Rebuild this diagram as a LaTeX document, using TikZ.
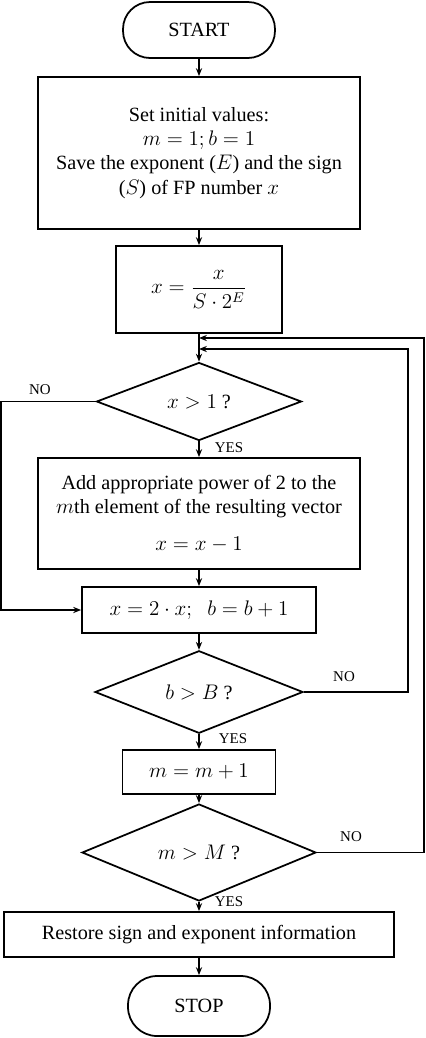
\documentclass[tikz,border=0pt]{standalone}
\usepackage{fontspec}
\setmainfont{Liberation Serif}
\usetikzlibrary{shapes.geometric,arrows.meta}
\begin{document}
\begin{tikzpicture}[
        x=0.02cm, y=-0.02cm,
        every node/.style={draw, line width=1pt, align=center, font=\fontsize{11.5}{13.8}\selectfont, inner sep=2pt},
        term/.style={rounded corners=0.54cm, minimum width=3.04cm, minimum height=1.12cm},
        box/.style={rectangle},
        test/.style={diamond, inner sep=0pt},
        ar/.style={-{Stealth[length=4.5pt,width=3.5pt]}, line width=1pt},
        invis/.style={draw=none, font=\fontsize{8.5}{10}\selectfont},
    ]
    \useasboundingbox (0,0) rectangle (426,1038);

    \node[term](start) at (199,30) {START};
    \node[box, minimum width=6.44cm, minimum height=3.04cm](init) at (199,153)
        {Set initial values:\\ $m=1; b=1$\\ Save the exponent ($E$) and the sign\\ ($S$) of FP number $x$};
    \node[box, minimum width=3.32cm, minimum height=1.74cm](frac) at (199,289.5)
        {$x=\displaystyle\frac{x}{S\cdot 2^{E}}$};
    \node[test, minimum width=4.1cm, minimum height=1.54cm](d1) at (199,401.5) {$x>1$ ?};
    \node[box, minimum width=6.44cm, minimum height=2.22cm](add) at (199,513.5)
        {Add appropriate power of 2 to the\\ $m$th element of the resulting vector\\[7pt] $x=x-1$};
    \node[box, minimum width=4.68cm, minimum height=0.92cm](mul) at (199,610) {$x=2\cdot x;\;\; b=b+1$};
    \node[test, minimum width=4.16cm, minimum height=1.6cm](d2) at (199,692) {$b>B$ ?};
    \node[box, minimum width=3.06cm, minimum height=0.88cm](inc) at (199,772) {$m=m+1$};
    \node[test, minimum width=4.68cm, minimum height=1.62cm](d3) at (199,852.5) {$m>M$ ?};
    \node[box, minimum width=7.8cm, minimum height=0.9cm](rest) at (199,934.5) {Restore sign and exponent information};
    \node[term, rounded corners=0.58cm, minimum width=2.84cm, minimum height=1.2cm](stop) at (199,1006) {STOP};

    \coordinate (j1) at (199,338);
    \coordinate (j2) at (199,349);

    \node[invis](no1) at (40,390) {NO};
    \node[invis](yes1) at (229,448) {YES};
    \node[invis](no2) at (344,677) {NO};
    \node[invis](yes2) at (233,739) {YES};
    \node[invis](no3) at (351,837) {NO};
    \node[invis](yes3) at (229,902) {YES};

    \path[ar]
    (start) edge (init)
    (init) edge (frac)
    (frac) edge (d1)
    (d1) edge (add)
    (add) edge (mul)
    (mul) edge (d2)
    (d2) edge (inc)
    (inc) edge (d3)
    (d3) edge (rest)
    (rest) edge (stop)
    ;
    \draw[ar] (d1.west) -- ++(-95,0) |- (mul.west);
    \draw[ar] (d2.east) -- ++(104,0) |- (j2);
    \draw[ar] (d3.east) -- ++(107,0) |- (j1);
\end{tikzpicture}
\end{document}
